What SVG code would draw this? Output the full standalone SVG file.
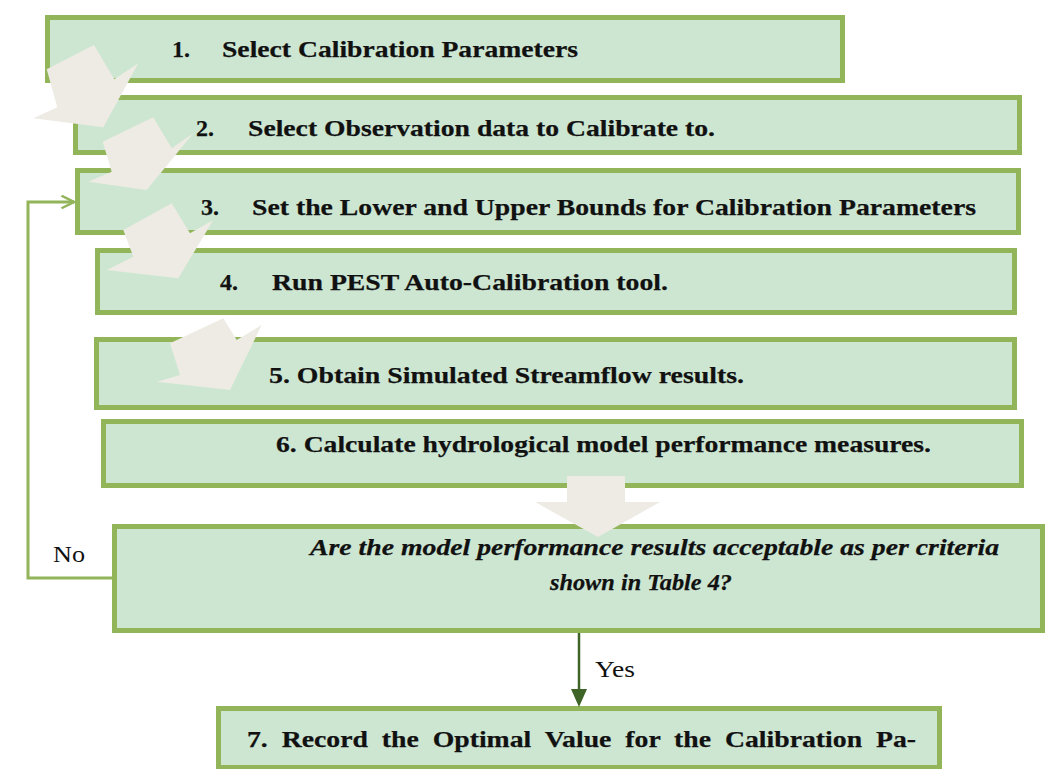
<svg xmlns="http://www.w3.org/2000/svg" width="1046" height="769" viewBox="0 0 1046 769">
<style>
.box{fill:#cde6d1;stroke:#92b55a;stroke-width:5}
.t{font-family:"Liberation Serif",Tinos,"Times New Roman",Times,serif;font-size:24px;font-weight:bold;fill:#111;stroke:#111;stroke-width:0.25}
.ti{font-family:"Liberation Serif",Tinos,"Times New Roman",Times,serif;font-size:24px;font-weight:bold;font-style:italic;fill:#111;stroke:#111;stroke-width:0.25}
.lbl{font-family:"Liberation Serif",Tinos,"Times New Roman",Times,serif;font-size:23px;fill:#111}
.blk{fill:#eeebe4}
.fb{fill:none;stroke:#92b55a;stroke-width:3}
</style>
<defs>
<marker id="openhead" viewBox="0 0 12 12" refX="11" refY="6" markerWidth="5" markerHeight="5" orient="auto" markerUnits="strokeWidth">
<path d="M1,1 L11,6 L1,11" fill="none" stroke="#92b55a" stroke-width="2"/>
</marker>
</defs>
<rect width="1046" height="769" fill="#ffffff"/>
<g id="node1">
<rect class="box" x="47.5" y="17.5" width="795" height="63"/>
<text class="t" x="172" y="57">1.</text>
<text class="t" x="222" y="57" textLength="356" lengthAdjust="spacingAndGlyphs">Select Calibration Parameters</text>
</g>
<g id="node2">
<rect class="box" x="75.5" y="97.5" width="944" height="55"/>
<text class="t" x="196" y="136">2.</text>
<text class="t" x="248" y="136" textLength="467" lengthAdjust="spacingAndGlyphs">Select Observation data to Calibrate to.</text>
</g>
<g id="node3">
<rect class="box" x="77.5" y="170.5" width="941" height="62"/>
<text class="t" x="201" y="215">3.</text>
<text class="t" x="252" y="215" textLength="724" lengthAdjust="spacingAndGlyphs">Set the Lower and Upper Bounds for Calibration Parameters</text>
</g>
<g id="node4">
<rect class="box" x="97.5" y="250.5" width="917" height="62"/>
<text class="t" x="220" y="290">4.</text>
<text class="t" x="272" y="290" textLength="396" lengthAdjust="spacingAndGlyphs">Run PEST Auto-Calibration tool.</text>
</g>
<g id="node5">
<rect class="box" x="96.5" y="339.5" width="918" height="68"/>
<text class="t" x="269" y="383" textLength="475" lengthAdjust="spacingAndGlyphs">5. Obtain Simulated Streamflow results.</text>
</g>
<g id="node6">
<rect class="box" x="103.5" y="421.5" width="918" height="64"/>
<text class="t" x="276" y="452" textLength="655" lengthAdjust="spacingAndGlyphs">6. Calculate hydrological model performance measures.</text>
</g>
<g id="decision">
<rect class="box" x="114.5" y="526.5" width="928" height="104"/>
<text class="ti" x="310" y="555" textLength="689" lengthAdjust="spacingAndGlyphs">Are the model performance results acceptable as per criteria</text>
<text class="ti" x="550" y="590" textLength="182" lengthAdjust="spacingAndGlyphs">shown in Table 4?</text>
</g>
<g id="node7">
<rect class="box" x="218.5" y="708.5" width="721" height="59"/>
<text class="t" x="247" y="747" textLength="669" lengthAdjust="spacingAndGlyphs" word-spacing="6">7. Record the Optimal Value for the Calibration Pa-</text>
</g>
<g id="connectors">
<polygon class="blk" points="46.7,69.3 94,45 114.3,79.3 138.3,63.3 103.3,127.3 33.3,118.3 57.3,107.3"/>
<polygon class="blk" points="153.3,117.3 102.7,141.7 111.7,171.7 88.3,181.7 146.7,190 193.3,133.3 171.7,148.3"/>
<polygon class="blk" points="171.7,203.3 123.3,230 133.3,256.7 106.7,270 178.3,278.3 213.3,220 190,233.3"/>
<polygon class="blk" points="223.3,318.3 170,343.3 180,375 156.7,381.7 230,390 261.7,325 236.7,340"/>
<polygon class="blk" points="567,476 625,476 625,502 660,502 598,537 535,502 567,502"/>
<polyline class="fb" points="114,578 28,578 28,202 74,202" marker-end="url(#openhead)"/>
<line x1="579" y1="633" x2="579" y2="692" stroke="#3e6428" stroke-width="2.5"/>
<polygon points="571,689 587,689 579,707" fill="#3e6428"/>
<text class="lbl" x="53" y="562" textLength="32" lengthAdjust="spacingAndGlyphs">No</text>
<text class="lbl" x="595" y="677" textLength="40" lengthAdjust="spacingAndGlyphs">Yes</text>
</g>
</svg>
